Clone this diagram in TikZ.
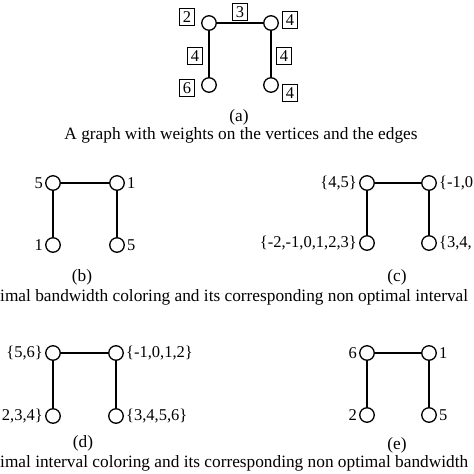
\documentclass[tikz,border=0pt]{standalone}
\usepackage{fontspec}
\setmainfont{Liberation Serif}
\usetikzlibrary{positioning}

\begin{document}
\begin{tikzpicture}[
		x=1pt, y=-1pt,
		vertex/.style={draw, circle, line width=1.3pt, minimum size=14.5pt, inner sep=0pt},
		edge/.style={line width=1.2pt},
		weight/.style={draw, rectangle, line width=0.7pt, inner sep=0pt, minimum width=15pt, minimum height=17pt, font=\fontsize{16.5}{19}\selectfont},
		lbl/.style={inner sep=1pt, font=\fontsize{16.5}{19}\selectfont},
		caption/.style={inner sep=0pt, font=\fontsize{17.3}{20}\selectfont},
		node distance=1pt % Abstand Beschriftung - Knoten
		]
		\useasboundingbox (0,0) rectangle (474,474);
		
		% (a) Graph mit Gewichten an Knoten und Kanten
		\node[vertex] (a1) at (209,23) {};
		\node[vertex] (a2) at (271,23) {};
		\node[vertex] (a3) at (209,85) {};
		\node[vertex] (a4) at (271,85) {};
		\draw[edge] (a1) -- (a2);
		\draw[edge] (a1) -- (a3);
		\draw[edge] (a2) -- (a4);
		\node[weight] (wa1) at (187,17) {2};
		\node[weight] (wa2) at (290,20) {4};
		\node[weight] (wa3) at (187,88) {6};
		\node[weight] (wa4) at (290,93) {4};
		\node[weight] (we12) at (240,12) {3};
		\node[weight] (we13) at (195,56) {4};
		\node[weight] (we24) at (284,56) {4};
		\node[caption] (ta) at (239,117) {(a)};
		\node[caption] (ca) at (241,135) {A graph with weights on the vertices and the edges};
		
		% (b) Bandbreitenfaerbung
		\node[vertex] (b1) at (53,183) {};
		\node[vertex] (b2) at (117,183) {};
		\node[vertex] (b3) at (53,245) {};
		\node[vertex] (b4) at (117,245) {};
		\draw[edge] (b1) -- (b2);
		\draw[edge] (b1) -- (b3);
		\draw[edge] (b2) -- (b4);
		\node[lbl, left=of b1] (lb1) {5};
		\node[lbl, right=of b2] (lb2) {1};
		\node[lbl, left=of b3] (lb3) {1};
		\node[lbl, right=of b4] (lb4) {5};
		\node[caption] (tb) at (82,277) {(b)};
		
		% (c) Intervallfaerbung
		\node[vertex] (c1) at (367,183) {};
		\node[vertex] (c2) at (429,183) {};
		\node[vertex] (c3) at (367,243) {};
		\node[vertex] (c4) at (429,243) {};
		\draw[edge] (c1) -- (c2);
		\draw[edge] (c1) -- (c3);
		\draw[edge] (c2) -- (c4);
		\node[lbl, left=of c1] (lc1) {\{4,5\}};
		\node[lbl, right=of c2] (lc2) {\{-1,0};
		\node[lbl, left=of c3] (lc3) {\{-2,-1,0,1,2,3\}};
		\node[lbl, right=of c4] (lc4) {\{3,4,};
		\node[caption] (tc) at (397,277) {(c)};
		\node[caption, anchor=west] (cb) at (0,297) {imal bandwidth coloring and its corresponding non optimal interval};
		
		% (d) Intervallfaerbung
		\node[vertex] (d1) at (53,353) {};
		\node[vertex] (d2) at (116,353) {};
		\node[vertex] (d3) at (53,416) {};
		\node[vertex] (d4) at (116,416) {};
		\draw[edge] (d1) -- (d2);
		\draw[edge] (d1) -- (d3);
		\draw[edge] (d2) -- (d4);
		\node[lbl, left=of d1] (ld1) {\{5,6\}};
		\node[lbl, right=of d2] (ld2) {\{-1,0,1,2\}};
		\node[lbl, left=of d3] (ld3) {2,3,4\}};
		\node[lbl, right=of d4] (ld4) {\{3,4,5,6\}};
		\node[caption] (td) at (83,443) {(d)};
		
		% (e) Bandbreitenfaerbung
		\node[vertex] (e1) at (367,353) {};
		\node[vertex] (e2) at (429,353) {};
		\node[vertex] (e3) at (367,415) {};
		\node[vertex] (e4) at (429,415) {};
		\draw[edge] (e1) -- (e2);
		\draw[edge] (e1) -- (e3);
		\draw[edge] (e2) -- (e4);
		\node[lbl, left=of e1] (le1) {6};
		\node[lbl, right=of e2] (le2) {1};
		\node[lbl, left=of e3] (le3) {2};
		\node[lbl, right=of e4] (le4) {5};
		\node[caption] (te) at (397,445) {(e)};
		\node[caption, anchor=west] (cd) at (0,463) {imal interval coloring and its corresponding non optimal bandwidth};
	\end{tikzpicture}
\end{document}
